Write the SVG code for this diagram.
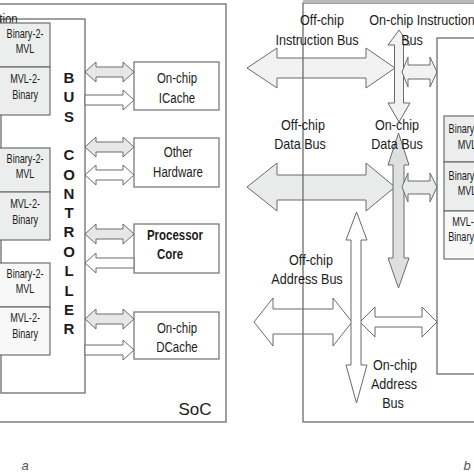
<svg xmlns="http://www.w3.org/2000/svg" width="474" height="474" viewBox="0 0 474 474">
<style>
.box{fill:none;stroke:#6e6e6e;stroke-width:1.3}
.mod{fill:#ffffff;stroke:#6e6e6e;stroke-width:1.2}
.cvg{fill:#eceeed;stroke:#6e6e6e;stroke-width:1.2}
.cvw{fill:#f8f8f8;stroke:#6e6e6e;stroke-width:1.2}
.ar{stroke:#6a6a6a;stroke-width:1;stroke-linejoin:miter}
.g{fill:#e6e8e7}
.w{fill:#ffffff}
.l1{fill:#f1f2f1}
.l2{fill:#e9ebea}
.l3{fill:#dde0df}
text{font-family:"Liberation Sans",Arial,sans-serif;fill:#1c1c1c;text-anchor:middle}
.cv{font-size:12px;transform:scaleX(0.76);transform-box:fill-box;transform-origin:center}
.md{font-size:14px;transform:scaleX(0.82);transform-box:fill-box;transform-origin:center}
.lb{font-size:14px;transform:scaleX(0.9);transform-box:fill-box;transform-origin:center}
.bc{font-size:15px;font-weight:bold}
.soc{font-size:17px}
.cap{font-size:13px;font-style:italic;fill:#555}
</style>

<!-- Panel a -->
<g id="soc">
<rect class="box" x="-5" y="4" width="231" height="418"/>
<text class="soc" x="195" y="415">SoC</text>
</g>
<g id="bus-controller">
<rect class="box" x="1" y="19" width="84" height="374"/>
<text class="bc" x="69"><tspan x="69" y="83">B</tspan><tspan x="69" y="102">U</tspan><tspan x="69" y="122">S</tspan><tspan x="69" y="160">C</tspan><tspan x="69" y="180">O</tspan><tspan x="69" y="199">N</tspan><tspan x="69" y="218">T</tspan><tspan x="69" y="237">R</tspan><tspan x="69" y="257">O</tspan><tspan x="69" y="276">L</tspan><tspan x="69" y="296">L</tspan><tspan x="69" y="315">E</tspan><tspan x="69" y="334">R</tspan></text>
</g>
<g id="title-fragment"><text class="md" x="8.5" y="24">tion</text></g>

<g id="conv-a1">
<rect class="cvg" x="-3" y="23" width="53" height="44"/>
<text class="cv" x="25" y="38">Binary-2-</text><text class="cv" x="25" y="53">MVL</text>
<rect class="cvg" x="-3" y="67" width="53" height="48"/>
<text class="cv" x="25" y="83">MVL-2-</text><text class="cv" x="25" y="99">Binary</text>
</g>
<g id="conv-a2">
<rect class="cvg" x="-3" y="148" width="53" height="44"/>
<text class="cv" x="25" y="163">Binary-2-</text><text class="cv" x="25" y="178">MVL</text>
<rect class="cvg" x="-3" y="192" width="53" height="48"/>
<text class="cv" x="25" y="208">MVL-2-</text><text class="cv" x="25" y="224">Binary</text>
</g>
<g id="conv-a3">
<rect class="cvw" x="-3" y="263" width="53" height="44"/>
<text class="cv" x="25" y="278">Binary-2-</text><text class="cv" x="25" y="293">MVL</text>
<rect class="cvw" x="-3" y="307" width="53" height="48"/>
<text class="cv" x="25" y="322">MVL-2-</text><text class="cv" x="25" y="338">Binary</text>
</g>

<g id="icache"><rect class="mod" x="134" y="62" width="85" height="48"/>
<text class="md" x="177" y="83">On-chip</text><text class="md" x="177" y="103">ICache</text></g>
<g id="other-hw"><rect class="mod" x="134" y="138" width="85" height="49"/>
<text class="md" x="178" y="157">Other</text><text class="md" x="178" y="177">Hardware</text></g>
<g id="processor"><rect class="mod" x="134" y="224" width="85" height="49"/>
<text class="md" x="175" y="240" font-weight="bold">Processor</text><text class="md" x="170" y="259" font-weight="bold">Core</text></g>
<g id="dcache"><rect class="mod" x="134" y="312" width="85" height="47"/>
<text class="md" x="177" y="333">On-chip</text><text class="md" x="177" y="352">DCache</text></g>

<g id="connectors-a">
<path class="ar g" d="M85,72 L96,62 L96,67 L123,67 L123,62 L134,72 L123,82 L123,77 L96,77 L96,82 Z"/>
<path class="ar w" d="M85,95 L123,95 L123,90 L134,100 L123,110 L123,105 L85,105 Z"/>
<path class="ar g" d="M85,147 L96,137 L96,142 L123,142 L123,137 L134,147 L123,157 L123,152 L96,152 L96,157 Z"/>
<path class="ar w" d="M85,175 L96,165 L96,170 L123,170 L123,165 L134,175 L123,185 L123,180 L96,180 L96,185 Z"/>
<path class="ar g" d="M85,234 L96,224 L96,229 L123,229 L123,224 L134,234 L123,244 L123,239 L96,239 L96,244 Z"/>
<path class="ar w" d="M134,258 L96,258 L96,253 L85,263 L96,273 L96,268 L134,268 Z"/>
<path class="ar g" d="M85,319 L96,309 L96,314 L123,314 L123,309 L134,319 L123,329 L123,324 L96,324 L96,329 Z"/>
<path class="ar w" d="M85,345 L123,345 L123,340 L134,350 L123,360 L123,355 L85,355 Z"/>
</g>

<text class="cap" x="25" y="470">a</text>

<!-- Panel b -->
<g id="connectors-b">
<path class="ar l1" d="M247,68 L277,48 L277,58 L366,58 L366,48 L395,68 L366,88 L366,78 L277,78 L277,88 Z"/>
<path class="ar l2" d="M247,187 L277,163 L277,175 L366,175 L366,163 L395,187 L366,211 L366,200 L277,200 L277,211 Z"/>
<path class="ar l1" d="M399,30 L410,45 L403.5,45 L403.5,103 L410,103 L399,122 L388,103 L394.5,103 L394.5,45 L388,45 Z"/>
<path class="ar l3" d="M398.5,133 L409,165 L404,165 L404,258 L409,258 L398.5,288 L388,258 L393,258 L393,165 L388,165 Z"/>
<path class="ar l1" d="M402,72 L408,57 L408,65 L430,65 L430,57 L437,72 L430,87 L430,79 L408,79 L408,87 Z"/>
<path class="ar l2" d="M402,187 L408,173 L408,181 L430,181 L430,173 L437,187 L430,202 L430,194 L408,194 L408,202 Z"/>
<path class="ar w" d="M254,322 L273,298 L273,309 L333,309 L333,298 L352,322 L333,346 L333,334 L273,334 L273,346 Z"/>
<path class="ar w" d="M360,322 L375,307 L375,317 L422,317 L422,307 L437,322 L422,337 L422,327 L375,327 L375,337 Z"/>
<path class="ar w" d="M356.5,212 L367,240 L361,240 L361,365 L367,365 L356.5,403 L346,365 L351,365 L351,240 L346,240 Z"/>
</g>

<g id="board">
<rect class="box" x="303" y="3" width="200" height="419"/>
<line x1="303" y1="1.5" x2="474" y2="1.5" stroke="#b8b8b8" stroke-width="3"/>
</g>
<g id="chip-b">
<rect class="box" x="437" y="38" width="60" height="336"/>
</g>
<g id="conv-b">
<rect class="cvg" x="444" y="116" width="50" height="46"/>
<text class="cv" x="467" y="133">Binary-2-</text><text class="cv" x="467" y="149">MVL</text>
<rect class="cvg" x="444" y="162" width="50" height="49"/>
<text class="cv" x="467" y="180">Binary-2-</text><text class="cv" x="467" y="195">MVL</text>
<rect class="cvw" x="444" y="211" width="50" height="48"/>
<text class="cv" x="467" y="226">MVL-2-</text><text class="cv" x="461" y="241">Binary</text>
</g>

<g id="labels-b">
<text class="lb" x="322" y="25">Off-chip</text>
<text class="lb" x="317" y="45">Instruction Bus</text>
<text class="lb" x="422" y="25">On-chip Instruction</text>
<text class="lb" x="412" y="45">Bus</text>
<text class="lb" x="303" y="130">Off-chip</text>
<text class="lb" x="300" y="149">Data Bus</text>
<text class="lb" x="397" y="130">On-chip</text>
<text class="lb" x="397" y="149">Data Bus</text>
<text class="lb" x="311" y="265">Off-chip</text>
<text class="lb" x="307" y="284">Address Bus</text>
<text class="lb" x="395" y="370">On-chip</text>
<text class="lb" x="394" y="389">Address</text>
<text class="lb" x="393" y="408">Bus</text>
</g>

<text class="cap" x="467" y="470">b</text>
</svg>
